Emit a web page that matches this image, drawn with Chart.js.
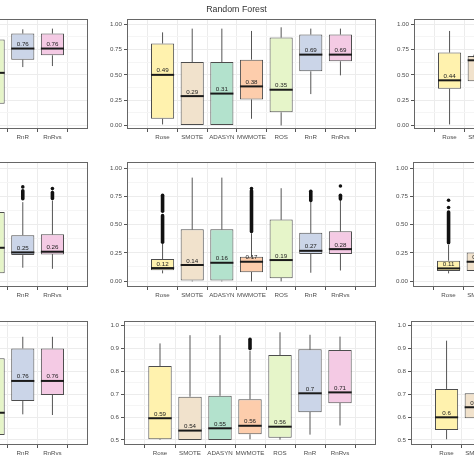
<!DOCTYPE html>
<html>
<head>
<meta charset="utf-8">
<script src="https://cdn.jsdelivr.net/npm/chart.js@4.4.1/dist/chart.umd.min.js"></script>
<style>
  html, body { margin: 0; padding: 0; background: #fff; width: 474px; height: 474px; overflow: hidden; position: relative; }
  canvas { position: absolute; }
</style>
</head>
<body>
<script>
const categories = ['Rose', 'SMOTE', 'ADASYN', 'MWMOTE', 'ROS', 'RnR', 'RnRvs'];
const colors = ['#FFF2AE', '#F1E2CC', '#B3E2CD', '#FDCDAC', '#E6F5C9', '#CBD5E8', '#F4CAE4'];

const fullTicks = ['0.00', '0.25', '0.50', '0.75', '1.00'];
const highTicks = ['0.5', '0.6', '0.7', '0.8', '0.9', '1.0'];

// each box: [lower whisker, Q1, median, Q3, upper whisker]; null = outside the crop
const topLeftStats = [null, null, null, null, [0.0, 0.215, 0.52, 0.85, 0.97], [0.577, 0.65, 0.76, 0.908, 0.95], [0.587, 0.693, 0.76, 0.908, 0.957]];
const topLeftLabels = ['', '', '', '', '0.51', '0.76', '0.76'];
const topLeftOutliers = [[], [], [], [], [], [], []];

const topCenterStats = [
  [0.01, 0.066, 0.50, 0.81, 0.92],
  [0.0, 0.0, 0.29, 0.627, 0.957],
  [0.0, 0.0, 0.315, 0.627, 0.957],
  [0.066, 0.257, 0.386, 0.65, 0.934],
  [0.0, 0.13, 0.353, 0.868, 0.97],
  [0.31, 0.535, 0.70, 0.898, 0.957],
  [0.495, 0.634, 0.70, 0.898, 0.957]
];
const topCenterLabels = ['0.49', '0.29', '0.31', '0.38', '0.35', '0.69', '0.69'];
const topCenterOutliers = [[], [], [], [], [], [], []];

const topRightStats = [[0.01, 0.363, 0.446, 0.72, 0.934], [0.12, 0.436, 0.644, 0.686, 0.94], null, null, null, null, null];
const topRightLabels = ['0.44', '0.64', '', '', '', '', ''];
const topRightOutliers = [[], [[0.05, 0.05]], [], [], [], [], []];

const midLeftStats = [null, null, null, null, [0.0, 0.068, 0.295, 0.613, 0.9], [0.118, 0.23, 0.254, 0.407, 0.70], [0.112, 0.236, 0.26, 0.416, 0.71]];
const midLeftLabels = ['', '', '', '', '0.29', '0.25', '0.26'];
const midLeftOutliers = [[], [], [], [], [], [[0.73, 0.80], [0.835, 0.835]], [[0.732, 0.785], [0.82, 0.82]]];

const midCenterStats = [
  [0.068, 0.095, 0.115, 0.195, 0.33],
  [0.0, 0.0, 0.142, 0.46, 0.914],
  [0.0, 0.0, 0.162, 0.46, 0.914],
  [0.0, 0.077, 0.171, 0.215, 0.42],
  [0.0, 0.024, 0.186, 0.546, 0.82],
  [0.077, 0.239, 0.268, 0.428, 0.70],
  [0.097, 0.239, 0.283, 0.442, 0.72]
];
const midCenterLabels = ['0.12', '0.14', '0.16', '0.17', '0.19', '0.27', '0.28'];
const midCenterOutliers = [
  [[0.345, 0.58], [0.62, 0.76]],
  [], [],
  [[0.44, 0.80], [0.82, 0.82]],
  [],
  [[0.715, 0.796]],
  [[0.728, 0.761], [0.843, 0.843]]
];

const midRightStats = [[0.068, 0.088, 0.112, 0.18, 0.32], [0.0, 0.088, 0.171, 0.254, 0.49], null, null, null, null, null];
const midRightLabels = ['0.11', '0.17', '', '', '', '', ''];
const midRightOutliers = [
  [[0.34, 0.613], [0.652, 0.652], [0.717, 0.717]],
  [[0.50, 0.776], [0.805, 0.805], [0.835, 0.835], [0.865, 0.865]],
  [], [], [], [], []
];

const botLeftStats = [null, null, null, null, [0.503, 0.522, 0.619, 0.857, 0.97], [0.612, 0.67, 0.758, 0.90, 0.951], [0.609, 0.697, 0.758, 0.90, 0.951]];
const botLeftLabels = ['', '', '', '', '0.62', '0.76', '0.76'];
const botLeftOutliers = [[], [], [], [], [], [], []];

const botCenterStats = [
  [0.50, 0.503, 0.595, 0.823, 0.922],
  [0.50, 0.50, 0.541, 0.689, 0.958],
  [0.50, 0.50, 0.551, 0.693, 0.958],
  [0.503, 0.525, 0.562, 0.678, 0.89],
  [0.503, 0.51, 0.558, 0.871, 0.969],
  [0.525, 0.621, 0.704, 0.896, 0.958],
  [0.565, 0.66, 0.708, 0.893, 0.95]
];
const botCenterLabels = ['0.59', '0.54', '0.55', '0.56', '0.56', '0.7', '0.71'];
const botCenterOutliers = [[], [], [], [[0.90, 0.94]], [], [], []];

const botRightStats = [[0.503, 0.544, 0.599, 0.723, 0.934], [0.503, 0.595, 0.643, 0.704, 0.86], null, null, null, null, null];
const botRightLabels = ['0.6', '0.64', '', '', '', '', ''];
const botRightOutliers = [[], [[0.871, 0.944]], [], [], [], [], []];

const FONT = "'Liberation Sans', Arial, sans-serif";

function boxParts(stats, labels, outliers) {
  return {
    id: 'boxParts',
    beforeDatasetsDraw(chart) {
      const { ctx, chartArea: a, scales: { x, y } } = chart;
      ctx.save();
      ctx.beginPath();
      ctx.rect(a.left, a.top, a.width, a.height);
      ctx.clip();
      stats.forEach((s, i) => {
        if (!s) return;
        const px = x.getPixelForValue(i);
        ctx.strokeStyle = '#555';
        ctx.lineWidth = 1;
        ctx.beginPath();
        ctx.moveTo(px, y.getPixelForValue(s[0]));
        ctx.lineTo(px, y.getPixelForValue(s[1]));
        ctx.moveTo(px, y.getPixelForValue(s[3]));
        ctx.lineTo(px, y.getPixelForValue(s[4]));
        ctx.stroke();
        ctx.fillStyle = '#111';
        ctx.strokeStyle = '#111';
        outliers[i].forEach(([lo, hi]) => {
          if (lo === hi) {
            ctx.beginPath();
            ctx.arc(px, y.getPixelForValue(lo), 1.8, 0, Math.PI * 2);
            ctx.fill();
          } else {
            ctx.lineWidth = 3.6;
            ctx.lineCap = 'round';
            ctx.beginPath();
            ctx.moveTo(px, y.getPixelForValue(lo));
            ctx.lineTo(px, y.getPixelForValue(hi));
            ctx.stroke();
          }
        });
      });
      ctx.restore();
    },
    afterDatasetsDraw(chart) {
      const { ctx, chartArea: a, scales: { x, y } } = chart;
      const half = (x.getPixelForValue(1) - x.getPixelForValue(0)) * 0.78 / 2;
      ctx.save();
      ctx.beginPath();
      ctx.rect(a.left, a.top, a.width, a.height);
      ctx.clip();
      stats.forEach((s, i) => {
        if (!s) return;
        const px = x.getPixelForValue(i);
        const my = y.getPixelForValue(s[2]);
        ctx.strokeStyle = '#1a1a1a';
        ctx.lineWidth = 2;
        ctx.beginPath();
        ctx.moveTo(px - half, my);
        ctx.lineTo(px + half, my);
        ctx.stroke();
        ctx.fillStyle = '#222';
        ctx.font = '6.2px ' + FONT;
        ctx.textAlign = 'center';
        ctx.textBaseline = 'alphabetic';
        ctx.fillText(labels[i], px, my - 2.5);
      });
      ctx.restore();
    },
    afterDraw(chart) {
      const { ctx, chartArea: a } = chart;
      ctx.save();
      ctx.strokeStyle = '#666';
      ctx.lineWidth = 1;
      ctx.strokeRect(a.left + 0.5, a.top + 0.5, a.width - 1, a.height - 1);
      ctx.restore();
    }
  };
}

function makePanel(stats, labels, outliers, ticks, yMin, yMax, area, title) {
  const padTop = 19, axisW = 30, axisH = 18, padRight = 3;
  const canvas = document.createElement('canvas');
  canvas.width = area.w + axisW + padRight;
  canvas.height = area.h + padTop + axisH;
  canvas.style.left = (area.x - axisW) + 'px';
  canvas.style.top = (area.y - padTop) + 'px';
  document.body.appendChild(canvas);

  const boxes = [];
  const fills = [];
  stats.forEach((s, i) => {
    if (s) { boxes.push({ x: i, y: [s[1], s[3]] }); fills.push(colors[i]); }
  });

  const major = ticks.map(Number);
  const tickValues = [];
  major.forEach((v, i) => {
    tickValues.push(v);
    if (i < major.length - 1) tickValues.push((v + major[i + 1]) / 2);
  });
  const isMajor = c => c.tick && major.indexOf(c.tick.value) >= 0;

  new Chart(canvas, {
    type: 'bar',
    data: {
      datasets: [{
        data: boxes,
        backgroundColor: fills,
        borderColor: '#4d4d4d',
        borderWidth: 1,
        borderSkipped: false,
        barPercentage: 0.78,
        categoryPercentage: 1
      }]
    },
    options: {
      responsive: false,
      animation: false,
      layout: { padding: { top: title ? 0 : padTop, right: padRight, left: 0, bottom: 0 } },
      plugins: {
        legend: { display: false },
        tooltip: { enabled: false },
        title: {
          display: !!title,
          text: title || '',
          color: '#333',
          font: { size: 8.8, family: FONT, weight: 'normal' },
          padding: { top: 4.5, bottom: 3.94 }
        }
      },
      scales: {
        x: {
          type: 'linear',
          min: -0.6,
          max: 6.6,
          afterBuildTicks: s => { s.ticks = categories.map((c, i) => ({ value: i })); },
          afterFit: s => { s.height = axisH; },
          ticks: {
            callback: v => categories[v],
            autoSkip: false,
            maxRotation: 0,
            color: '#4d4d4d',
            font: { size: 6.2, family: FONT },
            padding: 2
          },
          grid: { color: '#ececec', tickColor: '#555', tickLength: 3 },
          border: { display: false }
        },
        y: {
          min: yMin,
          max: yMax,
          afterBuildTicks: s => { s.ticks = tickValues.map(v => ({ value: v })); },
          afterFit: s => { s.width = axisW; },
          ticks: {
            callback: v => { const k = major.indexOf(v); return k >= 0 ? ticks[k] : ''; },
            autoSkip: false,
            color: '#4d4d4d',
            font: { size: 6.2, family: FONT },
            padding: 2
          },
          grid: {
            color: c => isMajor(c) ? '#ececec' : '#f5f5f5',
            tickColor: c => isMajor(c) ? '#555' : 'rgba(0,0,0,0)',
            tickLength: 3
          },
          border: { display: false }
        }
      }
    },
    plugins: [boxParts(stats, labels, outliers)]
  });
}

makePanel(topLeftStats, topLeftLabels, topLeftOutliers, fullTicks, -0.035, 1.052, { x: -161, y: 19, w: 249, h: 110 });
makePanel(topCenterStats, topCenterLabels, topCenterOutliers, fullTicks, -0.035, 1.052, { x: 127, y: 19, w: 249, h: 110 }, 'Random Forest');
makePanel(topRightStats, topRightLabels, topRightOutliers, fullTicks, -0.035, 1.052, { x: 414, y: 19, w: 249, h: 110 });

makePanel(midLeftStats, midLeftLabels, midLeftOutliers, fullTicks, -0.053, 1.056, { x: -161, y: 162, w: 249, h: 125 });
makePanel(midCenterStats, midCenterLabels, midCenterOutliers, fullTicks, -0.053, 1.056, { x: 127, y: 162, w: 249, h: 125 });
makePanel(midRightStats, midRightLabels, midRightOutliers, fullTicks, -0.053, 1.056, { x: 413, y: 162, w: 249, h: 125 });

makePanel(botLeftStats, botLeftLabels, botLeftOutliers, highTicks, 0.478, 1.02, { x: -161, y: 321, w: 249, h: 124 });
makePanel(botCenterStats, botCenterLabels, botCenterOutliers, highTicks, 0.478, 1.02, { x: 124, y: 321, w: 252, h: 124 });
makePanel(botRightStats, botRightLabels, botRightOutliers, highTicks, 0.478, 1.02, { x: 411, y: 321, w: 249, h: 124 });
</script>
</body>
</html>
